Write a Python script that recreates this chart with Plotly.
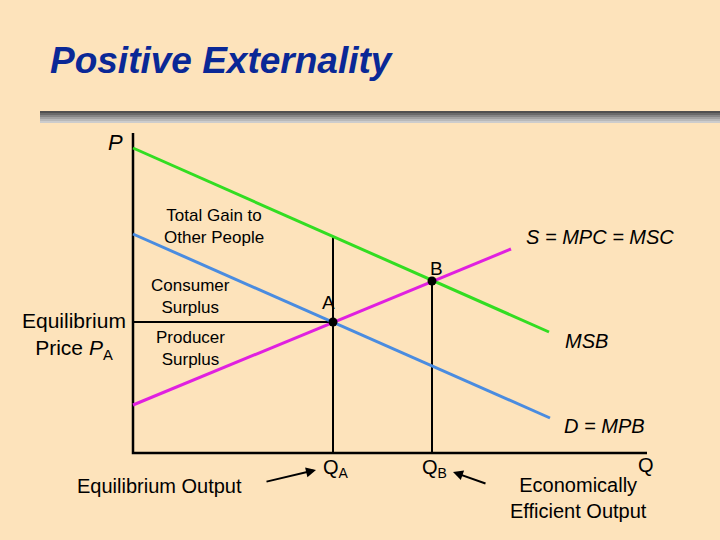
import plotly.graph_objects as go

# Data (Q, P units; origin at axes corner)
msb_q = [0, 416]; msb_p = [305, 121]
mpb_q = [0, 417]; mpb_p = [219, 35]
mpc_q = [0, 378]; mpc_p = [48, 204]
pt_names = ["A", "B"]; pt_q = [200, 299]; pt_p = [131, 172]
qa_top = 217
axis_q_max = 514; axis_p_max = 320

def X(px): return px - 133
def Y(py): return 453 - py

fig = go.Figure()
BG = "#FDE3BB"
fig.add_trace(go.Scatter(x=[0, 0, axis_q_max], y=[axis_p_max, 0, 0], mode="lines",
                         line=dict(color="black", width=2.5), hoverinfo="skip"))
fig.add_trace(go.Scatter(x=[0, pt_q[0], pt_q[0], None, pt_q[0], pt_q[0], None, pt_q[1], pt_q[1]],
                         y=[pt_p[0], pt_p[0], 0, None, pt_p[0], qa_top, None, pt_p[1], 0],
                         mode="lines", line=dict(color="black", width=2), hoverinfo="skip"))
for q, p, c in [(msb_q, msb_p, "#33DD22"), (mpb_q, mpb_p, "#4A8CE0"), (mpc_q, mpc_p, "#E020E0")]:
    fig.add_trace(go.Scatter(x=q, y=p, mode="lines", line=dict(color=c, width=3), hoverinfo="skip"))
fig.add_trace(go.Scatter(x=pt_q, y=pt_p, mode="markers", marker=dict(color="black", size=9)))

shapes = []
grays = ["#505050", "#6a6a6a", "#858585", "#a0a0a0", "#b8b8b8", "#cccccc"]
for i, g in enumerate(grays):
    shapes.append(dict(type="rect", xref="x", yref="y", x0=X(40), x1=X(720),
                       y0=Y(111 + 2 * i), y1=Y(113 + 2 * i), fillcolor=g, line=dict(width=0)))

F = "Liberation Sans, Arial"
def txt(px, py, s, size=20, anchor="left", italic=False, color="black", bold=False):
    st = ("italic" if italic else "normal")
    fig.add_annotation(x=X(px), y=Y(py), text=s, showarrow=False, xanchor=anchor, yanchor="middle",
                       font=dict(family=F, size=size, color=color, style=st,
                                 weight="bold" if bold else "normal"), align="center")

txt(48, 60, "Positive Externality", size=37, italic=True, bold=True, color="#0A2896")
txt(115, 142, "P", size=22, anchor="center", italic=True)
txt(214, 226, "Total Gain to<br>Other People", size=17, anchor="center")
txt(190, 296, "Consumer<br>Surplus", size=17, anchor="center")
txt(190, 348, "Producer<br>Surplus", size=17, anchor="center")
txt(74, 336, "Equilibrium<br>Price <i>P</i><sub>A</sub>", size=21, anchor="center")
txt(328, 302, "A", size=19, anchor="center")
txt(436, 268, "B", size=19, anchor="center")
txt(600, 237, "S = MPC = MSC", size=20, anchor="center", italic=True)
txt(586, 341, "MSB", size=20, anchor="center", italic=True)
txt(604, 426, "D = MPB", size=20, anchor="center", italic=True)
txt(159, 486, "Equilibrium Output", size=20, anchor="center")
txt(336, 468, "Q<sub>A</sub>", size=20, anchor="center")
txt(434, 468, "Q<sub>B</sub>", size=20, anchor="center")
txt(646, 465, "Q", size=20, anchor="center")
txt(578, 498, "Economically<br>Efficient Output", size=20, anchor="center")

for (tx, ty, hx, hy) in [(265, 482, 316, 470), (487, 484, 453, 472)]:
    fig.add_annotation(x=X(hx), y=Y(hy), ax=X(tx), ay=Y(ty), axref="x", ayref="y",
                       showarrow=True, arrowhead=2, arrowsize=1, arrowwidth=2, arrowcolor="black", text="")

fig.update_layout(width=720, height=540, margin=dict(l=0, r=0, t=0, b=0),
                  paper_bgcolor=BG, plot_bgcolor=BG, showlegend=False, shapes=shapes,
                  xaxis=dict(range=[X(0), X(720)], visible=False, fixedrange=True),
                  yaxis=dict(range=[Y(540), Y(0)], visible=False, fixedrange=True))
fig.write_html("out.html", config={"displayModeBar": False},
               post_script="document.body.style.margin='0';document.body.style.overflow='hidden';document.body.style.background='#FDE3BB';")
